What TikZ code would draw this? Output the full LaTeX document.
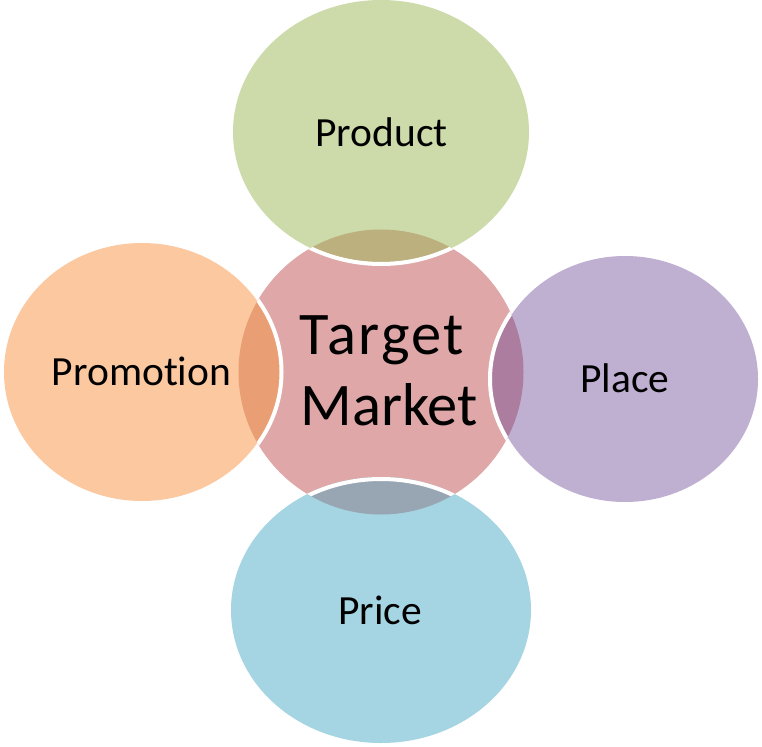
\documentclass[tikz,border=0pt]{standalone}
\usepackage{fontspec}
\setmainfont[Ligatures=NoCommon]{Carlito}
\definecolor{cprod}{HTML}{CDDBAA}
\definecolor{cplace}{HTML}{BFB0D2}
\definecolor{cprice}{HTML}{A5D4E3}
\definecolor{cpromo}{HTML}{FBC8A0}
\definecolor{cmid}{HTML}{DFA7A7}
\definecolor{oprod}{HTML}{BCB07F}
\definecolor{oplace}{HTML}{AC7D9E}
\definecolor{oprice}{HTML}{98A6B3}
\definecolor{opromo}{HTML}{E99E74}
\tikzset{
  petallabel/.style={font=\fontsize{41.5}{41.5}\selectfont,text=black,align=center},
  biglabel/.style={font=\fontsize{60.5}{71}\selectfont,text=black,align=center},
  rim/.style={white,line width=4pt}
}
\begin{document}
\begin{tikzpicture}[x=1pt,y=-1pt]
\useasboundingbox (0,0) rectangle (762,746);
\fill[white] (0,0) rectangle (762,746);
% centre circle
\fill[cmid] (381,372) circle[radius=142.5];
% petals
\fill[cprod] (381,132) ellipse[x radius=148,y radius=132];
\fill[cplace] (625,379) ellipse[x radius=133,y radius=123];
\fill[cprice] (381,610) ellipse[x radius=150,y radius=133];
\fill[cpromo] (142,372) ellipse[x radius=138,y radius=129];
% overlaps
\begin{scope}
\clip (381,372) circle[radius=142.5];
\fill[oprod] (381,132) ellipse[x radius=148,y radius=130];
\fill[oplace] (625,379) ellipse[x radius=135,y radius=123];
\fill[oprice] (381,610) ellipse[x radius=150,y radius=133];
\fill[opromo] (142,372) ellipse[x radius=138,y radius=129];
% white rims of the petals, inside the centre circle only
\draw[rim] (381,132) ellipse[x radius=148,y radius=132];
\draw[rim] (381,610) ellipse[x radius=150,y radius=131];
\draw[rim] (625,379) ellipse[x radius=135,y radius=123];
\draw[rim] (142,372) ellipse[x radius=139.5,y radius=129];
\end{scope}
\node[petallabel] (product) at (381.5,132) {Product};
\node[petallabel] (place) at (625,378) {Place};
\node[petallabel] (price) at (380,610) {Price};
\node[petallabel] (promotion) at (141.5,371) {Promotion};
\node[biglabel] (target) at (389,371) {{\addfontfeature{LetterSpace=4}Target}\hspace*{14pt}\\Market};
\end{tikzpicture}
\end{document}
